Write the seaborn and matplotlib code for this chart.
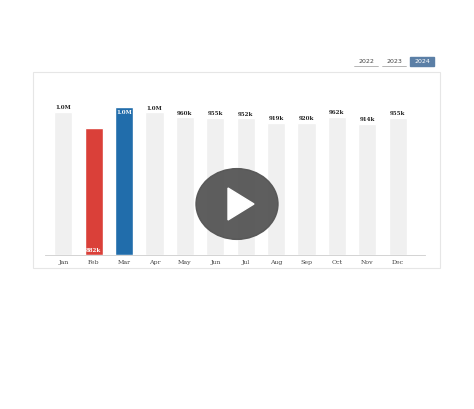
import matplotlib
matplotlib.use("Agg")
import matplotlib.pyplot as plt
import seaborn as sns
import pandas as pd
from matplotlib.patches import Circle, Polygon, Rectangle

months = ["Jan","Feb","Mar","Apr","May","Jun","Jul","Aug","Sep","Oct","Nov","Dec"]
values = [1000, 882, 1035, 995, 960, 955, 952, 919, 920, 962, 914, 955]
labels = ["1.0M","882k","1.0M","1.0M","960k","955k","952k","919k","920k","962k","914k","955k"]
years = ["2022", "2023", "2024"]

sns.set_style("white")
fig = plt.figure(figsize=(4.74, 4.09), dpi=100)
# card frame
fig.patches.append(Rectangle((33/474, 1-268/409), 407/474, 196/409, transform=fig.transFigure,
                             fill=False, ec="#e6e6e6", lw=0.8))
ax = fig.add_axes([45/474, 1-255/409, 380/474, 165/409])
df = pd.DataFrame({"m": months, "v": values})
colors = ["#f0f0f0"]*12
colors[1] = "#f5281e"; colors[2] = "#0a6fc2"
sns.barplot(data=df, x="m", y="v", hue="m", palette=colors, legend=False, width=0.6, ax=ax)
ax.set_ylim(0, 1150)
ax.set_xlim(-0.6, 11.9)
for i, (v, l) in enumerate(zip(values, labels)):
    if i == 1:
        ax.text(i, 15, l, ha="center", va="bottom", fontsize=4, color="white", family="serif", weight="bold")
    elif i == 2:
        ax.text(i, v-25, l, ha="center", va="top", fontsize=4, color="white", family="serif", weight="bold")
    else:
        ax.text(i, v+12, l, ha="center", va="bottom", fontsize=4, color="#222", family="serif", weight="bold")
ax.set_xlabel(""); ax.set_ylabel("")
ax.set_yticks([])
ax.tick_params(axis="x", labelsize=4.5, length=0, colors="#444")
for t in ax.get_xticklabels():
    t.set_family("serif")
for s in ["top", "right", "left"]:
    ax.spines[s].set_visible(False)
ax.spines["bottom"].set_color("#ccc"); ax.spines["bottom"].set_linewidth(0.6)

# year buttons
for i, y in enumerate(years):
    x0 = 354 + i*28
    if y == "2024":
        fig.patches.append(Rectangle((x0/474, 1-66/409), 24/474, 9/409, transform=fig.transFigure,
                                     color="#5b7fa6"))
        fig.text((x0+12)/474, 1-61.5/409, y, ha="center", va="center", fontsize=4.5, color="white")
    else:
        fig.text((x0+12)/474, 1-61.5/409, y, ha="center", va="center", fontsize=4.5, color="#444")
        fig.lines.append(plt.Line2D([x0/474, (x0+24)/474], [1-66/409]*2, transform=fig.transFigure,
                                    color="#999", lw=0.5))

# play overlay
fig.patches.append(Circle((237/474, 1-204/409), 41/474, transform=fig.transFigure,
                          color="#555555", alpha=0.95))
fig.patches.append(Polygon([(228/474, 1-188/409), (228/474, 1-220/409), (254/474, 1-204/409)],
                           transform=fig.transFigure, color="white"))
fig.savefig("out.png", dpi=100)
